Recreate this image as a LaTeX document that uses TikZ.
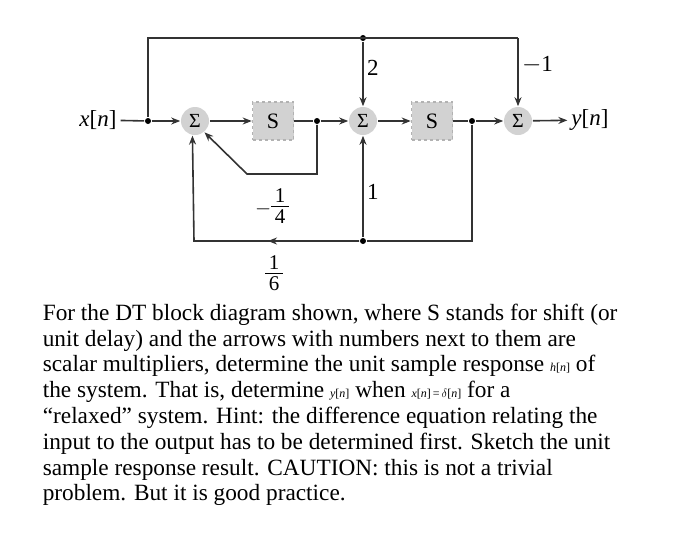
\documentclass[tikz,border=0pt]{standalone}
\usepackage{amsmath}
\usepackage{fontspec}
\setmainfont{Liberation Serif}
\usetikzlibrary{arrows.meta,positioning}
\newcommand{\sig}[1]{\textit{#1}[\textit{n}]}
\newcommand{\stk}[2]{\begin{tabular}{@{\,}c@{\,}}#1\\[-2pt]\hline\rule{0pt}{17pt}#2\end{tabular}}
\tikzset{
  sum/.style={circle,fill=gray!35,inner sep=0pt,minimum size=28pt,font=\fontsize{20}{20}\selectfont},
  del/.style={draw=gray!60,dashed,fill=gray!35,minimum width=41pt,minimum height=38pt,font=\fontsize{22}{22}\selectfont},
  flow/.style={-{Stealth[length=9pt,width=7pt]}},
  dot/.style={circle,fill,inner sep=0pt,minimum size=6pt},
  lbl/.style={font=\fontsize{23}{23}\selectfont},
  frc/.style={font=\fontsize{21}{19}\selectfont,inner sep=0pt}
}
\begin{document}
\begin{tikzpicture}[x=1pt,y=-1pt,line width=1.6pt,draw=black!80]
\useasboundingbox (0,0) rectangle (700,541);
% main path
\node[lbl] (x) at (98,120) {\sig{x}};
\node[sum] (s1) at (195,121) {Σ};
\node[del] (d1) at (273,121) {S};
\node[sum] (s2) at (363,121) {Σ};
\node[del] (d2) at (432,121) {S};
\node[sum] (s3) at (518,121) {Σ};
\node[lbl] (y) at (590,120) {\sig{y}};
\node[dot] (j0) at (148,121) {};
\node[dot] (j1) at (317,121) {};
\node[dot] (j2) at (472,121) {};
\node[dot] (jt) at (363,38) {};
\node[dot] (jb) at (363,241) {};
\coordinate (t0) at (148,38);
\coordinate (t3) at (518,38);
\coordinate (f1) at (317,174);
\coordinate (f2) at (247,174);
\coordinate (b1) at (472,241);
\coordinate (b0) at (194,241);
\draw (x) -- (j0);
\draw[flow] (j0) -- (s1);
\draw[flow] (s1) -- (d1);
\draw (d1) -- (j1);
\draw[flow] (j1) -- (s2);
\draw[flow] (s2) -- (d2);
\draw (d2) -- (j2);
\draw[flow] (j2) -- (s3);
\draw[flow] (s3) -- (y);
% feedforward
\draw (j0) -- (t0) -- (t3);
\draw[flow] (jt) -- node[lbl,right,pos=0.4]{2} (s2);
\draw[flow] (t3) -- node[lbl,right,pos=0.4]{$-$1} (s3);
% feedback
\draw[flow] (j1) -- (f1) -- (f2) -- (s1.-50);
\draw[flow] (jb) -- node[lbl,right,pos=0.45]{1} (s2);
\draw (j2) -- (b1) -- (jb);
\draw[flow] (jb) -- (b0) -- (s1.-100);
\draw[-{Stealth[length=9pt,width=7pt]}] (jb) -- (268,241);
\node[frc] (k1) at (272,209) {$-$\stk{1}{4}};
\node[frc] (k2) at (274,276) {\stk{1}{6}};
% problem text
\node[anchor=north west,inner sep=0pt,align=left,font=\fontsize{23.3}{25.8}\selectfont] (txt) at (42,303) {%
For the DT block diagram shown, where S stands for shift (or\\
unit delay) and the arrows with numbers next to them are\\
scalar multipliers, determine the unit sample response {\fontsize{12}{12}\selectfont\sig{h}} of\\
the system. That is, determine {\fontsize{12}{12}\selectfont\sig{y}} when {\fontsize{12}{12}\selectfont\sig{x}\,=\,$\delta$[\textit{n}]} for a\\
``relaxed'' system. Hint: the difference equation relating the\\
input to the output has to be determined first. Sketch the unit\\
sample response result. CAUTION: this is not a trivial\\
problem. But it is good practice.};
\end{tikzpicture}
\end{document}
